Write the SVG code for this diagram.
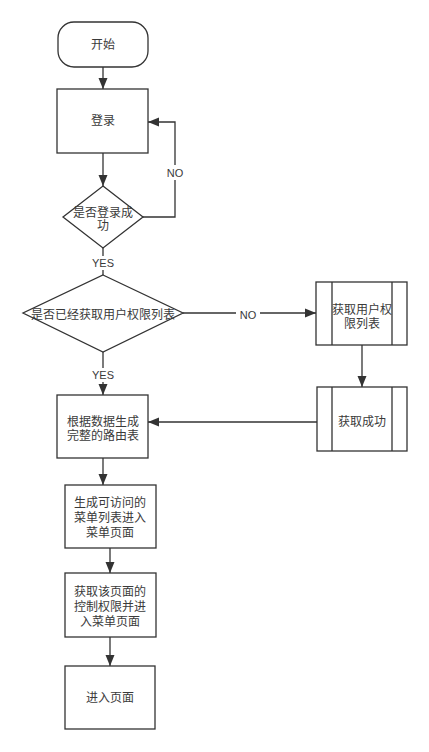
<svg xmlns="http://www.w3.org/2000/svg" width="429" height="752" viewBox="0 0 429 752">
<style>
.s{fill:#fff;stroke:#333;stroke-width:1.3}
.c{fill:none;stroke:#333;stroke-width:1.3}
.t{font-family:"Liberation Sans","Noto Sans CJK SC",sans-serif;font-size:12px;fill:#3a3a3a;text-anchor:middle}
.l{font-family:"Liberation Sans","Noto Sans CJK SC",sans-serif;font-size:11px;fill:#3a3a3a;text-anchor:middle}
</style>
<defs>
<marker id="a" viewBox="0 0 11 10" refX="11" refY="5" markerWidth="11" markerHeight="10" markerUnits="userSpaceOnUse" orient="auto">
<path d="M0,0.5 L11,5 L0,9.5 Z" fill="#333"/>
</marker>
</defs>
<rect width="429" height="752" fill="#fff"/>
<g id="connectors">
<path class="c" d="M103,67 V89" marker-end="url(#a)"/>
<path class="c" d="M103,153 V186" marker-end="url(#a)"/>
<path class="c" d="M143,217 H175 V122 H148" marker-end="url(#a)"/>
<path class="c" d="M103,248 V275"/>
<path class="c" d="M183,313 H316" marker-end="url(#a)"/>
<path class="c" d="M103,352 V395" marker-end="url(#a)"/>
<path class="c" d="M362,345 V387" marker-end="url(#a)"/>
<path class="c" d="M317,422 H148" marker-end="url(#a)"/>
<path class="c" d="M103,458 V485" marker-end="url(#a)"/>
<path class="c" d="M110,548 V573" marker-end="url(#a)"/>
<path class="c" d="M110,637 V666" marker-end="url(#a)"/>
<rect x="164" y="165" width="22" height="15" fill="#fff"/>
<text class="l" x="175" y="177">NO</text>
<rect x="90" y="256" width="26" height="14" fill="#fff"/>
<text class="l" x="103" y="267">YES</text>
<rect x="236" y="307" width="24" height="14" fill="#fff"/>
<text class="l" x="248" y="319">NO</text>
<rect x="90" y="368" width="26" height="14" fill="#fff"/>
<text class="l" x="103" y="379">YES</text>
</g>
<g id="start">
<rect class="s" x="58" y="22" width="90" height="45" rx="16"/>
<text class="t" x="103" y="49">开始</text>
</g>
<g id="login">
<rect class="s" x="57" y="89" width="91" height="64"/>
<text class="t" x="103" y="125">登录</text>
</g>
<g id="login-ok">
<path class="s" d="M103,186 L143,217 L103,248 L63,217 Z"/>
<text class="t" x="103" y="217">是否登录成</text>
<text class="t" x="103" y="230">功</text>
</g>
<g id="has-perm">
<path class="s" d="M103,275 L183,313 L103,352 L23,313 Z"/>
<text class="t" x="103" y="319">是否已经获取用户权限列表</text>
</g>
<g id="get-perm">
<rect class="s" x="316" y="282" width="91" height="63"/>
<path class="c" d="M332,282 V345 M392,282 V345"/>
<text class="t" x="362" y="314">获取用户权</text>
<text class="t" x="362" y="328">限列表</text>
</g>
<g id="get-ok">
<rect class="s" x="317" y="387" width="90" height="64"/>
<path class="c" d="M332,387 V451 M392,387 V451"/>
<text class="t" x="362" y="426">获取成功</text>
</g>
<g id="route">
<rect class="s" x="57" y="395" width="91" height="63"/>
<text class="t" x="103" y="426">根据数据生成</text>
<text class="t" x="103" y="440">完整的路由表</text>
</g>
<g id="menu">
<rect class="s" x="65" y="485" width="91" height="63"/>
<text class="t" x="110" y="507">生成可访问的</text>
<text class="t" x="110" y="522">菜单列表进入</text>
<text class="t" x="110" y="537">菜单页面</text>
</g>
<g id="ctrl">
<rect class="s" x="65" y="573" width="91" height="64"/>
<text class="t" x="110" y="596">获取该页面的</text>
<text class="t" x="110" y="611">控制权限并进</text>
<text class="t" x="110" y="626">入菜单页面</text>
</g>
<g id="enter">
<rect class="s" x="65" y="666" width="90" height="63"/>
<text class="t" x="110" y="702">进入页面</text>
</g>
</svg>
